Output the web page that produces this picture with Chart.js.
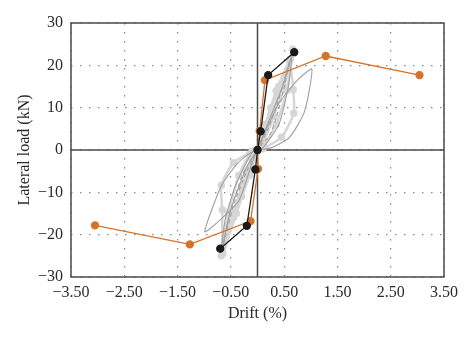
<!DOCTYPE html>
<html><head><meta charset="utf-8">
<script src="https://cdn.jsdelivr.net/npm/chart.js@4/dist/chart.umd.min.js"></script>
<style>html,body{margin:0;padding:0;background:#fff}#wrap{width:474px;height:338px}</style>
</head><body><div id="wrap"><canvas id="c"></canvas></div>
<script>
// Tick labels
const xTicks = [-3.5, -2.5, -1.5, -0.5, 0.5, 1.5, 2.5, 3.5];
const yTicks = [-30, -20, -10, 0, 10, 20, 30];

// Envelope (orange)
const envX = [-3.05, -1.27, -0.13, 0.01, 0, 0.04, 0.14, 1.28, 3.04];
const envY = [-17.8, -22.3, -16.8, -4.5, 0, 4.5, 16.5, 22.2, 17.7];

// Backbone (black)
const bbX = [-0.70, -0.20, -0.04, 0, 0.06, 0.20, 0.69];
const bbY = [-23.3, -17.9, -4.6, 0, 4.4, 17.7, 23.1];

// Hysteresis loops (light grey, with markers)
const g1X = [0, 0.15, 0.35, 0.62, 0.5, 0.3, 0.1, 0, -0.15, -0.4, -0.65, -0.5, -0.3, -0.1, 0];
const g1Y = [0, 6, 14, 21.5, 15, 8, 1.5, 0, -6, -15, -24.5, -17, -9, -1.5, 0];
const g2X = [0, 0.2, 0.45, 0.66, 0.55, 0.35, 0.12, 0, -0.2, -0.45, -0.68, -0.55, -0.35, -0.15, 0];
const g2Y = [0, 6, 15, 23.8, 14, 6, 1, 0, -5, -16, -25, -15, -6, -1, 0];
const g3X = [0, 0.1, 0.25, 0.4, 0.3, 0.1, 0, -0.1, -0.3, -0.45, -0.3, -0.1, 0];
const g3Y = [0, 4, 10, 14.5, 8, 2, 0, -4, -11, -15, -9, -2, 0];
const g4X = [0, 0.15, 0.4, 0.6, 0.67, 0.68, 0.45, 0.1, 0, -0.15, -0.4, -0.65, -0.66, -0.68, -0.45, -0.1, 0];
const g4Y = [0, 6, 15, 21, 14.3, 8.7, 3, 0.3, 0, -5, -15, -23, -14.2, -8.3, -3, -0.3, 0];

// Hysteresis loops (mid grey)
const m1X = [0, 0.1, 0.4, 0.75, 1.02, 0.88, 0.6, 0.25, 0, -0.15, -0.4, -0.68, -0.99, -0.7, -0.35, -0.1, 0];
const m1Y = [0, 3, 11, 16.5, 19.1, 9, 3, 0.5, 0, -0.8, -3.5, -8.5, -19.3, -16.5, -12, -3, 0];
const m2X = [0, 0.2, 0.4, 0.6, 0.45, 0.25, 0, -0.2, -0.45, -0.65, -0.5, -0.25, 0];
const m2Y = [0, 5, 12, 21, 12, 4, 0, -5, -13, -23, -14, -5, 0];
const m3X = [0, 0.25, 0.5, 0.64, 0.58, 0.4, 0.1, 0, -0.2, -0.5, -0.68, -0.6, -0.4, -0.1, 0];
const m3Y = [0, 8, 16, 22, 15, 6, 0.5, 0, -4, -14, -24, -16, -8, -0.5, 0];

const pts = (xs, ys) => xs.map((x, i) => ({x, y: ys[i]}));

const lightLoop = (xs, ys) => ({data: pts(xs, ys), showLine: true, borderColor: '#d6d6d6', backgroundColor: '#d6d6d6',
  borderWidth: 2.5, pointRadius: 2.5, tension: 0.2, order: 5});
const midLoop = (xs, ys, dash) => ({data: pts(xs, ys), showLine: true, borderColor: '#a0a0a0', backgroundColor: '#a0a0a0',
  borderWidth: 1.1, pointRadius: 0, tension: 0.2, borderDash: dash || [], order: 4});

const framePlugin = {
  id: 'frame',
  beforeDatasetsDraw(chart) {
    const {ctx, chartArea: a, scales} = chart;
    ctx.save();
    ctx.strokeStyle = '#4a4a4a';
    ctx.lineWidth = 1.5;
    const x0 = scales.x.getPixelForValue(0), y0 = scales.y.getPixelForValue(0);
    ctx.beginPath();
    ctx.moveTo(x0, a.top); ctx.lineTo(x0, a.bottom);
    ctx.moveTo(a.left, y0); ctx.lineTo(a.right, y0);
    ctx.stroke();
    ctx.strokeRect(a.left, a.top, a.right - a.left, a.bottom - a.top);
    ctx.restore();
  }
};

const font = {family: '"Liberation Serif", "DejaVu Serif", serif', size: 16};
const minus = v => (v < 0 ? '\u2212' : '') + Math.abs(v);

new Chart(document.getElementById('c'), {
  type: 'scatter',
  data: {datasets: [
    {data: pts(bbX, bbY), showLine: true, borderColor: '#1a1a1a', backgroundColor: '#1a1a1a', borderWidth: 1.3, pointRadius: 3.5, order: 1},
    {data: pts(envX, envY), showLine: true, borderColor: '#d4732a', backgroundColor: '#d4732a', borderWidth: 1.3, pointRadius: 3.5, order: 2},
    lightLoop(g1X, g1Y), lightLoop(g2X, g2Y), lightLoop(g3X, g3Y), lightLoop(g4X, g4Y),
    midLoop(m1X, m1Y), midLoop(m2X, m2Y, [4, 3]), midLoop(m3X, m3Y)
  ]},
  options: {
    responsive: true, maintainAspectRatio: false, animation: false,
    layout: {padding: {top: 23, right: 30, left: 0, bottom: 0}},
    plugins: {legend: {display: false}, tooltip: {enabled: false}},
    scales: {
      x: {
        type: 'linear', min: -3.5, max: 3.5,
        afterBuildTicks: s => { s.ticks = xTicks.map(v => ({value: v})); },
        afterFit: s => { s.height = 61; },
        ticks: {font, color: '#2a2a2a', padding: 6, callback: v => (v < 0 ? '\u2212' : '') + Math.abs(v).toFixed(2), maxRotation: 0, autoSkip: false},
        grid: {color: '#888', lineWidth: 1.2, drawTicks: false},
        border: {display: false, dash: [1.5, 7.5]},
        title: {display: true, text: 'Drift (%)', font, color: '#2a2a2a', padding: {top: 2, bottom: 15}}
      },
      y: {
        type: 'linear', min: -30, max: 30,
        afterBuildTicks: s => { s.ticks = yTicks.map(v => ({value: v})); },
        afterFit: s => { s.width = 71; },
        ticks: {font, color: '#2a2a2a', padding: 8, callback: minus, autoSkip: false},
        grid: {color: '#888', lineWidth: 1.2, drawTicks: false},
        border: {display: false, dash: [1.5, 7.5]},
        title: {display: true, text: 'Lateral load (kN)', font, color: '#2a2a2a', padding: {top: 15, bottom: 0}}
      }
    }
  },
  plugins: [framePlugin]
});
</script></body></html>
